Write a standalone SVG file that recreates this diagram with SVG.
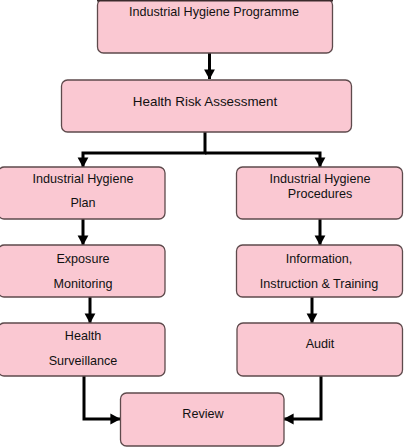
<svg xmlns="http://www.w3.org/2000/svg" width="405" height="448" viewBox="0 0 405 448">
<defs>
<style>
.box{fill:#fac8d2;stroke:#5e4a4c;stroke-width:1.3}
.t{font-family:"Liberation Sans",Arial,sans-serif;font-size:12.6px;fill:#111;text-anchor:middle}
.big{font-size:13.4px}
.c{fill:none;stroke:#000;stroke-width:3}
</style>
<marker id="ah" markerWidth="4" markerHeight="4" refX="3.2" refY="2" orient="auto" markerUnits="strokeWidth">
<path d="M0,0.2 L3.4,2 L0,3.8 Z" fill="#000"/>
</marker>
</defs>
<rect width="405" height="448" fill="#fff"/>
<g id="connectors">
<path class="c" d="M209.5,53 V79" marker-end="url(#ah)"/>
<path class="c" d="M205,132 V153 H83 V167" marker-end="url(#ah)"/>
<path class="c" d="M205,153 H320 V167" marker-end="url(#ah)"/>
<path class="c" d="M83,219 V245" marker-end="url(#ah)"/>
<path class="c" d="M90,297 V323" marker-end="url(#ah)"/>
<path class="c" d="M320,219 V245" marker-end="url(#ah)"/>
<path class="c" d="M312,297 V323" marker-end="url(#ah)"/>
<path class="c" d="M84,376 V419 H120" marker-end="url(#ah)"/>
<path class="c" d="M321,376 V419 H284" marker-end="url(#ah)"/>
</g>
<g id="n-programme">
<rect class="box" x="97.5" y="-1" width="235" height="54" rx="6"/>
<line x1="97" y1="0.5" x2="333" y2="0.5" stroke="#3a2a2c" stroke-width="2"/>
<text class="t" x="214" y="16">Industrial Hygiene Programme</text>
</g>
<g id="n-hra">
<rect class="box" x="61.5" y="80" width="290" height="52" rx="6"/>
<text class="t big" x="205" y="106">Health Risk Assessment</text>
</g>
<g id="n-plan">
<rect class="box" x="-2" y="167" width="167" height="52" rx="6"/>
<text class="t" x="83" y="183">Industrial Hygiene</text>
<text class="t" x="83" y="207">Plan</text>
</g>
<g id="n-procedures">
<rect class="box" x="236.5" y="167" width="166" height="52" rx="6"/>
<text class="t" x="320" y="183">Industrial Hygiene</text>
<text class="t" x="320" y="198">Procedures</text>
</g>
<g id="n-exposure">
<rect class="box" x="-2" y="245" width="167" height="52" rx="6"/>
<text class="t" x="83" y="263">Exposure</text>
<text class="t" x="83" y="288">Monitoring</text>
</g>
<g id="n-information">
<rect class="box" x="236.5" y="245" width="166" height="52" rx="6"/>
<text class="t" x="319" y="263">Information,</text>
<text class="t" x="319" y="288">Instruction &amp; Training</text>
</g>
<g id="n-health">
<rect class="box" x="-2" y="323" width="167" height="53" rx="6"/>
<text class="t" x="83" y="340">Health</text>
<text class="t" x="83" y="365">Surveillance</text>
</g>
<g id="n-audit">
<rect class="box" x="237" y="323" width="165.5" height="53" rx="6"/>
<text class="t" x="320" y="348">Audit</text>
</g>
<g id="n-review">
<rect class="box" x="120.5" y="393" width="163.5" height="53" rx="6"/>
<text class="t" x="203" y="418">Review</text>
</g>
</svg>
